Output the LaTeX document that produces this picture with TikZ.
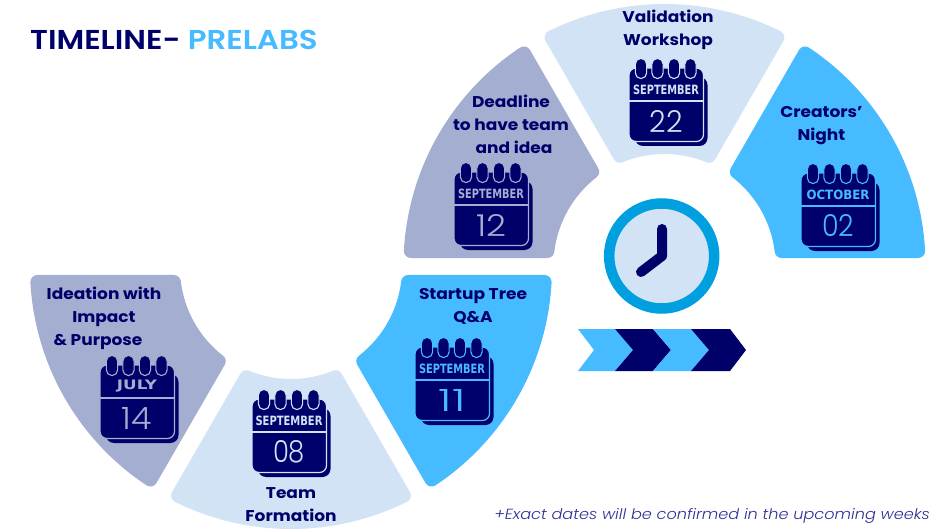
\documentclass[tikz,border=0pt]{standalone}
\usepackage{fontspec}
\usepackage{graphicx}
\setmainfont{Poppins}
\newfontfamily\lblfont{Poppins Bold}[FakeStretch=1.09]
\newfontfamily\titlefont{Poppins SemiBold}[FakeStretch=1.13]
\newfontfamily\digfont{Poppins Light}
\newfontfamily\monfont{DejaVu Sans}
\newfontfamily\notefont{Poppins Light Italic}[FakeStretch=1.1]
\definecolor{navy}{HTML}{00006A}
\definecolor{lav}{HTML}{A3AED0}
\definecolor{pale}{HTML}{D3E3F6}
\definecolor{sky}{HTML}{47BBFF}
\definecolor{ringc}{HTML}{009FDF}
\definecolor{notec}{HTML}{2E2E96}
\tikzset{
  lbl/.style={text=navy,font=\lblfont\fontsize{15.6}{23}\selectfont,align=center,inner sep=0pt},
  segm/.style={fill=#1,draw=#1,line width=14pt,line join=round},
  tabm/.style={fill=navy,draw=#1,line width=1.1pt,rounded corners=5.4pt},
  chev/.style={fill=#1,draw=none}
}
% \ringseg{cx}{cy}{a1}{a2}{g1}{g2}{colour}
\newcommand{\ringseg}[7]{%
  \pgfmathsetmacro{\Ao}{#3+asin((#5+7)/254)}
  \pgfmathsetmacro{\At}{#4-asin((#6+7)/254)}
  \pgfmathsetmacro{\Bo}{#3+asin((#5+7)/118)}
  \pgfmathsetmacro{\Bt}{#4-asin((#6+7)/118)}
  \draw[segm=#7] ($(#1,#2)+(\Ao:254)$) arc[start angle=\Ao,end angle=\At,radius=254]
    -- ($(#1,#2)+(\Bt:118)$) arc[start angle=\Bt,end angle=\Bo,radius=118] -- cycle;
}
% \calicon{name}{x}{y}{bg}{month}{month width}{digits}{digit width}
\newcommand{\calicon}[8]{%
  \begin{scope}[shift={(#2,#3)}]
    \fill[navy,rounded corners=8pt] (6,18) rectangle (78.5,87);
    \fill[navy,draw=#4,line width=1.2pt,rounded corners=7pt] (0,9) rectangle (74.5,82.5);
    \foreach \tx in {12,28.5,45,61.5}
      \draw[tabm=#4] (\tx-5.6,-0.5) rectangle (\tx+5.6,19.5);
    \draw[#4,line width=1.2pt] (0,42) -- (74.5,42);
    \node[text=#4,inner sep=0pt] (#1m) at (37,30.5) {\resizebox{#6pt}{9.5pt}{\monfont\bfseries #5}};
    \node[text=#4,inner sep=0pt] (#1d) at (37,62) {\resizebox{#8pt}{22pt}{\digfont #7}};
  \end{scope}
}
\usetikzlibrary{calc}
\begin{document}
\begin{tikzpicture}[x=1pt,y=-1pt]
\useasboundingbox (0,0) rectangle (946,532);
\fill[white] (0,0) rectangle (946,532);
% segments
\ringseg{291}{268}{120}{180}{9}{7}{lav}
\ringseg{291}{268}{60}{120}{9}{9}{pale}
\ringseg{291}{268}{0}{60}{7}{9}{sky}
\ringseg{664.5}{265}{-180}{-120}{7}{9}{lav}
\ringseg{664.5}{265}{-120}{-60}{9}{9}{pale}
\ringseg{664.5}{265}{-60}{0}{9}{7}{sky}
% title
\node[anchor=west,inner sep=0pt,font=\titlefont\fontsize{27.3}{30}\selectfont] (title) at (30,39.5)
  {\textcolor{navy}{TIMELINE-} \textcolor{sky}{PRELABS}};
% labels
\node[lbl] (t1) at (104,318) {Ideation with\\Impact\hspace*{5pt}\\\&\ Purpose\hspace*{12pt}};
\node[lbl] (t2) at (291,505) {Team\\Formation};
\node[lbl] (t3) at (473,306.5) {Startup Tree\\Q\&A};
\node[lbl] (t4) at (511,124.5) {Deadline\\to have team\\\hspace*{6pt}and idea};
\node[lbl] (t5) at (668,30) {Validation\\Workshop};
\node[lbl] (t6) at (821.5,125.5) {Creators’\\Night};
% calendars
\calicon{c1}{100}{356}{lav}{JULY}{40}{14}{30}
\calicon{c2}{252}{390}{pale}{SEPTEMBER}{67}{08}{32}
\calicon{c3}{415}{338}{sky}{SEPTEMBER}{66}{11}{27}
\calicon{c4}{454}{163}{lav}{SEPTEMBER}{66}{12}{30}
\calicon{c5}{629}{59}{pale}{SEPTEMBER}{66}{22}{33}
\calicon{c6}{801}{164}{sky}{OCTOBER}{63}{02}{32}
% clock
\node[circle,fill=pale,draw=ringc,line width=10.5pt,minimum size=105pt,inner sep=0pt] (clock) at (661.7,256) {};
\draw[navy,line width=10pt,line cap=round,line join=round] (662,229) -- (662,256) -- (641,272);
% chevrons
\fill[chev=sky] (578,329) -- (615,329) -- (633,350) -- (615,371) -- (578,371) -- (594,350) -- cycle;
\fill[chev=navy] (615,329) -- (653,329) -- (671,350) -- (653,371) -- (615,371) -- (633,350) -- cycle;
\fill[chev=sky] (653,329) -- (691,329) -- (709,350) -- (691,371) -- (653,371) -- (671,350) -- cycle;
\fill[chev=navy] (691,329) -- (730,329) -- (746,350) -- (730,371) -- (691,371) -- (709,350) -- cycle;
% note
\node[anchor=east,inner sep=0pt,text=notec,font=\notefont\fontsize{14.65}{16}\selectfont] (note) at (930,516)
  {+Exact dates will be confirmed in the upcoming weeks};
\end{tikzpicture}
\end{document}
